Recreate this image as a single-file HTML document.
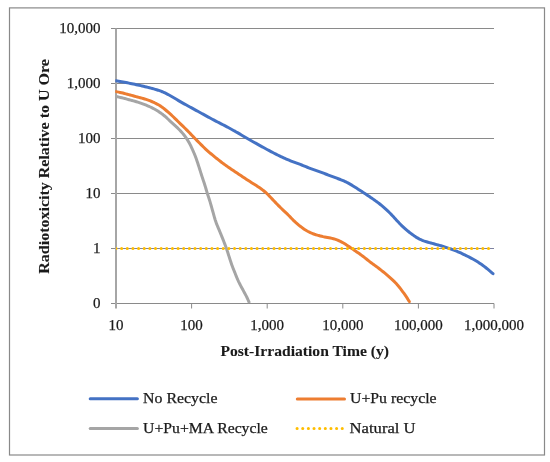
<!DOCTYPE html>
<html><head><meta charset="utf-8"><style>
html,body{margin:0;padding:0;background:#fff;width:550px;height:462px;overflow:hidden}
svg{display:block}
text{font-family:"Liberation Serif",serif;font-size:15px;fill:#1a1a1a;stroke:#1a1a1a;stroke-width:0.25px}
.b{font-weight:bold;stroke-width:0.1px}
</style></head><body>
<svg width="550" height="462" viewBox="0 0 550 462">
<defs><clipPath id="pa"><rect x="115.3" y="20" width="390" height="283.6"/></clipPath><clipPath id="pd"><rect x="116" y="240" width="380" height="20"/></clipPath></defs>
<rect x="0" y="0" width="550" height="462" fill="#fff"/>
<rect x="9.5" y="7.9" width="535" height="447.1" fill="none" stroke="#898989" stroke-width="1.2"/>
<line x1="111" y1="28.5" x2="494" y2="28.5" stroke="#8a8a8a" stroke-width="1"/>
<line x1="111" y1="83.5" x2="494" y2="83.5" stroke="#8a8a8a" stroke-width="1"/>
<line x1="111" y1="138.5" x2="494" y2="138.5" stroke="#8a8a8a" stroke-width="1"/>
<line x1="111" y1="193.5" x2="494" y2="193.5" stroke="#8a8a8a" stroke-width="1"/>
<line x1="111" y1="248.5" x2="116" y2="248.5" stroke="#8a8a8a" stroke-width="1"/>
<line x1="116" y1="248.5" x2="494" y2="248.5" stroke="#7e82a0" stroke-width="1"/>
<line x1="111" y1="303.5" x2="494" y2="303.5" stroke="#8a8a8a" stroke-width="1"/>
<line x1="191.6" y1="303.5" x2="191.6" y2="308.5" stroke="#8a8a8a" stroke-width="1"/>
<line x1="267.2" y1="303.5" x2="267.2" y2="308.5" stroke="#8a8a8a" stroke-width="1"/>
<line x1="342.8" y1="303.5" x2="342.8" y2="308.5" stroke="#8a8a8a" stroke-width="1"/>
<line x1="418.4" y1="303.5" x2="418.4" y2="308.5" stroke="#8a8a8a" stroke-width="1"/>
<line x1="494.0" y1="303.5" x2="494.0" y2="308.5" stroke="#8a8a8a" stroke-width="1"/>
<line x1="116" y1="28.5" x2="116" y2="308.5" stroke="#a6a6a6" stroke-width="2"/>

<g clip-path="url(#pa)">
<path d="M116.00,80.80 L117.36,81.00 L118.74,81.22 L120.14,81.45 L121.58,81.71 L123.03,81.98 L124.50,82.25 L125.97,82.54 L127.44,82.83 L128.92,83.12 L130.39,83.42 L131.86,83.72 L133.33,84.03 L134.80,84.34 L136.27,84.66 L137.73,84.98 L139.20,85.30 L140.66,85.64 L142.13,85.97 L143.59,86.32 L145.05,86.67 L146.51,87.02 L147.96,87.39 L149.42,87.76 L150.87,88.14 L152.32,88.53 L153.77,88.92 L155.21,89.33 L156.65,89.76 L158.09,90.20 L159.51,90.68 L160.92,91.18 L162.32,91.73 L163.69,92.31 L165.05,92.94 L166.39,93.61 L167.72,94.31 L169.04,95.03 L170.34,95.77 L171.64,96.52 L172.94,97.28 L174.23,98.04 L175.52,98.81 L176.81,99.58 L178.11,100.34 L179.40,101.10 L180.70,101.85 L182.00,102.60 L183.31,103.34 L184.62,104.07 L185.93,104.80 L187.25,105.53 L188.56,106.25 L189.88,106.97 L191.20,107.69 L192.52,108.41 L193.84,109.13 L195.15,109.85 L196.47,110.57 L197.79,111.29 L199.11,112.01 L200.43,112.73 L201.74,113.45 L203.06,114.17 L204.37,114.90 L205.69,115.62 L207.00,116.35 L208.32,117.07 L209.64,117.79 L210.96,118.51 L212.28,119.22 L213.60,119.93 L214.93,120.62 L216.27,121.32 L217.60,122.00 L218.94,122.68 L220.28,123.36 L221.62,124.04 L222.95,124.73 L224.29,125.42 L225.62,126.11 L226.95,126.82 L228.27,127.53 L229.59,128.25 L230.90,128.97 L232.21,129.71 L233.52,130.44 L234.83,131.18 L236.13,131.93 L237.43,132.67 L238.74,133.42 L240.04,134.17 L241.33,134.93 L242.63,135.68 L243.93,136.44 L245.22,137.20 L246.52,137.96 L247.82,138.71 L249.12,139.46 L250.42,140.21 L251.73,140.95 L253.03,141.70 L254.34,142.44 L255.65,143.17 L256.96,143.91 L258.26,144.64 L259.58,145.38 L260.89,146.11 L262.20,146.83 L263.52,147.56 L264.84,148.28 L266.16,148.99 L267.48,149.71 L268.80,150.42 L270.13,151.12 L271.45,151.82 L272.79,152.52 L274.12,153.21 L275.46,153.89 L276.80,154.57 L278.14,155.24 L279.49,155.90 L280.84,156.55 L282.20,157.19 L283.56,157.81 L284.93,158.43 L286.31,159.03 L287.69,159.63 L289.07,160.20 L290.47,160.77 L291.86,161.32 L293.26,161.85 L294.67,162.38 L296.08,162.90 L297.49,163.42 L298.89,163.94 L300.30,164.47 L301.70,165.02 L303.09,165.57 L304.49,166.13 L305.88,166.69 L307.27,167.25 L308.67,167.80 L310.07,168.34 L311.48,168.86 L312.89,169.36 L314.31,169.86 L315.73,170.35 L317.14,170.85 L318.56,171.36 L319.97,171.87 L321.38,172.39 L322.78,172.92 L324.19,173.44 L325.59,173.98 L327.00,174.51 L328.40,175.05 L329.80,175.58 L331.21,176.11 L332.61,176.64 L334.02,177.17 L335.43,177.69 L336.83,178.21 L338.24,178.73 L339.65,179.26 L341.05,179.79 L342.44,180.35 L343.82,180.94 L345.18,181.56 L346.53,182.22 L347.86,182.91 L349.18,183.64 L350.48,184.38 L351.77,185.14 L353.05,185.93 L354.32,186.72 L355.59,187.53 L356.86,188.34 L358.12,189.15 L359.38,189.96 L360.64,190.77 L361.91,191.59 L363.17,192.40 L364.43,193.22 L365.68,194.04 L366.93,194.88 L368.17,195.72 L369.41,196.57 L370.65,197.42 L371.88,198.27 L373.12,199.13 L374.35,199.99 L375.57,200.86 L376.79,201.74 L377.99,202.63 L379.18,203.55 L380.36,204.48 L381.52,205.44 L382.66,206.40 L383.80,207.39 L384.92,208.39 L386.03,209.39 L387.13,210.41 L388.23,211.44 L389.31,212.48 L390.37,213.54 L391.43,214.61 L392.46,215.69 L393.49,216.79 L394.50,217.90 L395.51,219.01 L396.51,220.13 L397.52,221.24 L398.54,222.34 L399.57,223.43 L400.62,224.50 L401.69,225.56 L402.77,226.60 L403.87,227.62 L404.99,228.62 L406.12,229.60 L407.27,230.57 L408.43,231.52 L409.60,232.46 L410.79,233.37 L411.99,234.28 L413.20,235.16 L414.43,236.03 L415.67,236.86 L416.94,237.65 L418.24,238.40 L419.56,239.09 L420.92,239.72 L422.29,240.30 L423.69,240.83 L425.11,241.31 L426.54,241.76 L427.98,242.19 L429.42,242.61 L430.87,243.01 L432.32,243.41 L433.76,243.80 L435.21,244.19 L436.66,244.59 L438.11,244.98 L439.56,245.39 L441.00,245.81 L442.44,246.24 L443.87,246.68 L445.30,247.14 L446.73,247.60 L448.16,248.07 L449.58,248.55 L451.00,249.04 L452.41,249.54 L453.82,250.06 L455.22,250.60 L456.61,251.17 L457.99,251.76 L459.36,252.37 L460.73,252.99 L462.08,253.63 L463.44,254.29 L464.78,254.94 L466.13,255.61 L467.48,256.28 L468.82,256.95 L470.16,257.63 L471.49,258.32 L472.81,259.03 L474.12,259.76 L475.42,260.51 L476.71,261.28 L477.98,262.08 L479.23,262.90 L480.48,263.74 L481.71,264.60 L482.93,265.47 L484.14,266.36 L485.33,267.27 L486.51,268.20 L487.68,269.14 L488.84,270.10 L489.98,271.07 L491.12,272.05 L492.25,273.04 L493.00,273.70" fill="none" stroke="#4472c4" stroke-width="3" stroke-linecap="round" stroke-linejoin="round"/>
<path d="M116.00,91.60 L117.34,91.85 L118.70,92.12 L120.09,92.42 L121.50,92.74 L122.94,93.08 L124.38,93.45 L125.83,93.83 L127.28,94.22 L128.72,94.62 L130.17,95.02 L131.62,95.41 L133.07,95.80 L134.52,96.19 L135.97,96.58 L137.41,96.96 L138.86,97.35 L140.31,97.74 L141.76,98.14 L143.20,98.55 L144.64,98.97 L146.07,99.42 L147.49,99.89 L148.90,100.39 L150.30,100.93 L151.68,101.50 L153.06,102.10 L154.42,102.73 L155.76,103.39 L157.09,104.08 L158.40,104.80 L159.69,105.56 L160.95,106.36 L162.18,107.21 L163.37,108.10 L164.53,109.04 L165.66,110.01 L166.79,111.00 L167.92,111.99 L169.04,112.98 L170.16,113.98 L171.28,114.98 L172.38,115.99 L173.48,117.02 L174.57,118.05 L175.64,119.10 L176.71,120.15 L177.77,121.21 L178.83,122.27 L179.90,123.32 L180.97,124.37 L182.05,125.41 L183.13,126.45 L184.22,127.49 L185.29,128.53 L186.36,129.58 L187.42,130.65 L188.47,131.72 L189.51,132.80 L190.55,133.88 L191.58,134.97 L192.62,136.05 L193.66,137.13 L194.71,138.21 L195.76,139.28 L196.81,140.34 L197.87,141.41 L198.92,142.48 L199.98,143.54 L201.04,144.60 L202.11,145.66 L203.18,146.71 L204.25,147.76 L205.33,148.79 L206.43,149.82 L207.54,150.82 L208.66,151.81 L209.80,152.79 L210.95,153.76 L212.09,154.72 L213.25,155.68 L214.40,156.63 L215.57,157.58 L216.74,158.51 L217.92,159.44 L219.10,160.37 L220.28,161.29 L221.47,162.20 L222.67,163.11 L223.87,164.00 L225.09,164.88 L226.31,165.75 L227.54,166.61 L228.76,167.47 L229.99,168.33 L231.23,169.18 L232.47,170.02 L233.72,170.85 L234.97,171.68 L236.23,172.50 L237.48,173.32 L238.73,174.15 L239.98,174.98 L241.23,175.81 L242.47,176.65 L243.72,177.49 L244.96,178.32 L246.21,179.15 L247.47,179.97 L248.73,180.79 L249.99,181.60 L251.26,182.40 L252.53,183.20 L253.80,184.00 L255.07,184.80 L256.33,185.60 L257.59,186.41 L258.85,187.23 L260.09,188.08 L261.31,188.94 L262.51,189.84 L263.68,190.76 L264.83,191.73 L265.95,192.72 L267.04,193.74 L268.11,194.79 L269.17,195.86 L270.21,196.94 L271.24,198.02 L272.27,199.11 L273.30,200.21 L274.33,201.30 L275.36,202.39 L276.40,203.47 L277.44,204.55 L278.49,205.62 L279.55,206.68 L280.63,207.73 L281.71,208.77 L282.80,209.80 L283.89,210.83 L284.98,211.85 L286.07,212.88 L287.16,213.92 L288.23,214.97 L289.29,216.03 L290.33,217.10 L291.37,218.18 L292.42,219.26 L293.47,220.32 L294.55,221.36 L295.64,222.39 L296.76,223.38 L297.90,224.36 L299.05,225.32 L300.22,226.25 L301.41,227.17 L302.61,228.06 L303.84,228.92 L305.08,229.75 L306.35,230.54 L307.65,231.28 L308.97,231.98 L310.32,232.62 L311.69,233.22 L313.08,233.76 L314.49,234.27 L315.91,234.73 L317.35,235.16 L318.79,235.55 L320.24,235.93 L321.70,236.29 L323.15,236.64 L324.62,236.96 L326.08,237.26 L327.55,237.54 L329.03,237.80 L330.50,238.08 L331.96,238.39 L333.41,238.75 L334.85,239.16 L336.26,239.63 L337.66,240.16 L339.03,240.75 L340.38,241.39 L341.71,242.08 L343.02,242.81 L344.31,243.56 L345.58,244.35 L346.84,245.16 L348.09,245.99 L349.34,246.83 L350.57,247.68 L351.81,248.52 L353.05,249.37 L354.29,250.21 L355.53,251.05 L356.77,251.90 L358.01,252.74 L359.24,253.60 L360.46,254.47 L361.67,255.36 L362.87,256.26 L364.06,257.18 L365.24,258.10 L366.41,259.03 L367.59,259.96 L368.77,260.89 L369.95,261.81 L371.15,262.72 L372.35,263.62 L373.56,264.51 L374.77,265.39 L375.98,266.27 L377.19,267.16 L378.39,268.05 L379.58,268.96 L380.77,269.88 L381.94,270.82 L383.11,271.76 L384.28,272.70 L385.44,273.65 L386.59,274.61 L387.74,275.58 L388.88,276.55 L390.00,277.54 L391.12,278.54 L392.22,279.56 L393.31,280.59 L394.38,281.64 L395.43,282.71 L396.45,283.81 L397.44,284.93 L398.41,286.07 L399.35,287.24 L400.28,288.42 L401.18,289.61 L402.08,290.81 L402.97,292.02 L403.85,293.23 L404.72,294.46 L405.57,295.69 L406.41,296.93 L407.23,298.19 L408.02,299.46 L408.79,300.74 L409.30,301.60" fill="none" stroke="#ed7d31" stroke-width="3" stroke-linecap="round" stroke-linejoin="round"/>
<path d="M116.00,96.50 L117.47,96.80 L118.94,97.11 L120.40,97.42 L121.87,97.76 L123.32,98.11 L124.77,98.50 L126.22,98.90 L127.66,99.32 L129.10,99.73 L130.55,100.13 L131.99,100.52 L133.45,100.90 L134.90,101.28 L136.34,101.68 L137.78,102.11 L139.21,102.56 L140.63,103.05 L142.04,103.55 L143.44,104.08 L144.84,104.63 L146.23,105.20 L147.61,105.78 L148.98,106.38 L150.35,107.00 L151.70,107.65 L153.04,108.33 L154.36,109.03 L155.66,109.77 L156.95,110.54 L158.22,111.34 L159.47,112.17 L160.70,113.02 L161.92,113.90 L163.11,114.81 L164.28,115.75 L165.42,116.72 L166.53,117.72 L167.63,118.74 L168.72,119.77 L169.81,120.80 L170.92,121.82 L172.03,122.82 L173.15,123.82 L174.26,124.83 L175.35,125.86 L176.44,126.89 L177.52,127.93 L178.58,128.99 L179.64,130.06 L180.67,131.14 L181.69,132.24 L182.68,133.37 L183.63,134.53 L184.55,135.71 L185.44,136.92 L186.30,138.14 L187.14,139.39 L187.95,140.65 L188.72,141.93 L189.46,143.24 L190.15,144.57 L190.81,145.91 L191.44,147.27 L192.06,148.64 L192.67,150.01 L193.28,151.38 L193.88,152.76 L194.46,154.14 L195.03,155.53 L195.58,156.92 L196.09,158.33 L196.59,159.74 L197.08,161.16 L197.55,162.59 L198.02,164.01 L198.49,165.44 L198.95,166.86 L199.41,168.29 L199.86,169.72 L200.31,171.15 L200.76,172.58 L201.21,174.02 L201.67,175.44 L202.13,176.87 L202.60,178.30 L203.08,179.72 L203.55,181.14 L204.03,182.56 L204.50,183.99 L204.96,185.42 L205.40,186.85 L205.82,188.29 L206.24,189.73 L206.66,191.17 L207.10,192.60 L207.54,194.03 L208.01,195.46 L208.48,196.89 L208.94,198.31 L209.40,199.74 L209.85,201.17 L210.29,202.61 L210.71,204.05 L211.12,205.49 L211.52,206.93 L211.93,208.38 L212.33,209.82 L212.74,211.27 L213.14,212.71 L213.55,214.15 L213.95,215.60 L214.36,217.04 L214.78,218.48 L215.21,219.92 L215.67,221.34 L216.17,222.76 L216.69,224.16 L217.25,225.56 L217.83,226.94 L218.42,228.32 L219.02,229.70 L219.60,231.08 L220.18,232.46 L220.75,233.85 L221.31,235.24 L221.87,236.63 L222.43,238.02 L222.98,239.42 L223.53,240.81 L224.08,242.21 L224.63,243.61 L225.17,245.00 L225.70,246.41 L226.21,247.82 L226.70,249.24 L227.18,250.66 L227.64,252.08 L228.10,253.51 L228.56,254.94 L229.01,256.37 L229.47,257.80 L229.93,259.23 L230.38,260.66 L230.85,262.08 L231.32,263.50 L231.82,264.92 L232.33,266.33 L232.87,267.73 L233.42,269.12 L233.98,270.52 L234.55,271.90 L235.11,273.29 L235.67,274.69 L236.22,276.08 L236.78,277.47 L237.36,278.86 L237.96,280.23 L238.58,281.60 L239.24,282.94 L239.92,284.28 L240.62,285.61 L241.33,286.93 L242.05,288.24 L242.76,289.56 L243.48,290.88 L244.19,292.20 L244.90,293.52 L245.61,294.85 L246.30,296.18 L246.97,297.52 L247.61,298.87 L248.22,300.24 L248.82,301.62 L249.40,303.00" fill="none" stroke="#a5a5a5" stroke-width="3" stroke-linecap="butt" stroke-linejoin="round"/>
</g>
<line clip-path="url(#pd)" x1="116" y1="248.5" x2="494" y2="248.5" stroke="#ffbe00" stroke-width="3.1" stroke-linecap="round" stroke-dasharray="0 5.644"/>
<text x="100.5" y="32.5" text-anchor="end">10,000</text>
<text x="100.5" y="87.5" text-anchor="end">1,000</text>
<text x="100.5" y="142.5" text-anchor="end">100</text>
<text x="100.5" y="197.5" text-anchor="end">10</text>
<text x="100.5" y="252.5" text-anchor="end">1</text>
<text x="100.5" y="307.5" text-anchor="end">0</text>
<text x="116.0" y="329.8" text-anchor="middle">10</text>
<text x="191.6" y="329.8" text-anchor="middle">100</text>
<text x="267.2" y="329.8" text-anchor="middle">1,000</text>
<text x="342.8" y="329.8" text-anchor="middle">10,000</text>
<text x="418.4" y="329.8" text-anchor="middle">100,000</text>
<text x="494.0" y="329.8" text-anchor="middle">1,000,000</text>

<text class="b" x="304.7" y="356.4" text-anchor="middle" textLength="168.6" lengthAdjust="spacingAndGlyphs">Post-Irradiation Time (y)</text>
<text class="b" transform="translate(48.8,166.4) rotate(-90)" x="0" y="0" text-anchor="middle" textLength="214.6" lengthAdjust="spacingAndGlyphs">Radiotoxicity Relative to U Ore</text>
<line x1="90.2" y1="398.8" x2="137.4" y2="398.8" stroke="#4472c4" stroke-width="3" stroke-linecap="round"/>
<text x="143.1" y="403.3" textLength="74.4" lengthAdjust="spacingAndGlyphs">No Recycle</text>
<line x1="297.3" y1="398.9" x2="344.5" y2="398.9" stroke="#ed7d31" stroke-width="3" stroke-linecap="round"/>
<text x="350.0" y="403.3" textLength="86.6" lengthAdjust="spacingAndGlyphs">U+Pu recycle</text>
<line x1="90.2" y1="428.4" x2="137.4" y2="428.4" stroke="#a5a5a5" stroke-width="3" stroke-linecap="round"/>
<text x="143.1" y="433.4" textLength="124.7" lengthAdjust="spacingAndGlyphs">U+Pu+MA Recycle</text>
<line x1="297.1" y1="428.5" x2="344.5" y2="428.5" stroke="#ffbe00" stroke-width="3.1" stroke-linecap="round" stroke-dasharray="0 5.644"/>
<text x="349.6" y="433.4" textLength="66.0" lengthAdjust="spacingAndGlyphs">Natural U</text>
</svg>
</body></html>
